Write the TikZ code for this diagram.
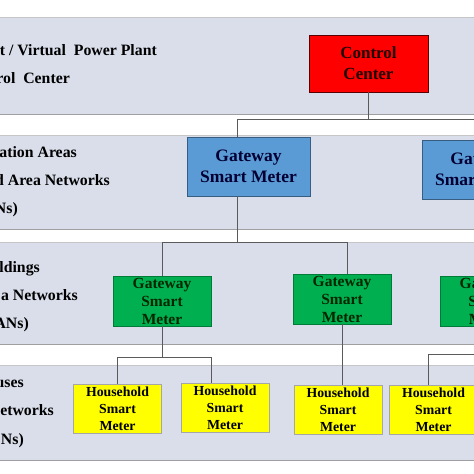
\documentclass[tikz,border=0pt]{standalone}
\usepackage{fontspec}
\setmainfont{Liberation Serif}
\definecolor{bandfill}{HTML}{D9DEEA}
\definecolor{ccred}{HTML}{FF0000}
\definecolor{gwblue}{HTML}{5B9BD5}
\definecolor{bgreen}{HTML}{00B050}
\definecolor{hhyellow}{HTML}{FFFF00}
\definecolor{wiregray}{HTML}{5A5A5A}

\begin{document}
\begin{tikzpicture}[x=1pt, y=-1pt,
        band/.style={fill=bandfill, draw=gray!45},
        bandedge/.style={draw=gray!75, line width=1pt},
        lbl/.style={anchor=base east, inner sep=0pt, font=\bfseries\fontsize{15.8}{19}\selectfont},
        box/.style={draw, inner sep=0pt, align=center},
        ccbox/.style={box, fill=ccred, draw=red!35!black, text=red!12!black,
            minimum width=119, minimum height=57, font=\bfseries\fontsize{17}{21}\selectfont},
        areabox/.style={box, fill=gwblue, draw=gwblue!60!black, text=blue!20!black,
            minimum width=123, minimum height=59, font=\bfseries\fontsize{17.5}{21}\selectfont},
        bldbox/.style={box, fill=bgreen, draw=bgreen!70!black, text=black!85!green,
            minimum width=98, minimum height=50, font=\bfseries\fontsize{15.5}{18}\selectfont},
        hhbox/.style={box, fill=hhyellow, draw=gray!70, text=black,
            minimum width=88, minimum height=49, font=\bfseries\fontsize{13.8}{17}\selectfont},
        wire/.style={draw=wiregray, line width=0.8pt}]

        \useasboundingbox (0,0) rectangle (474,474);
        \clip (0,0) rectangle (474,474);

        % bands
        \path[band] (-5,17) rectangle (480,114);
        \path[band] (-5,135) rectangle (480,229);
        \path[band] (-5,242) rectangle (480,344);
        \path[band] (-5,365) rectangle (480,460);
        \draw[bandedge] (-5,114) -- (480,114);
        \draw[bandedge] (-5,229) -- (480,229);
        \draw[bandedge] (-5,344) -- (480,344);
        \draw[bandedge] (-5,460) -- (480,460);

        % band labels
        \node[lbl] (vpp1) at (157,55) {t / Virtual\ \ Power Plant};
        \node[lbl] (vpp2) at (70,83) {rol\ \ Center};
        \node[lbl] (nan1) at (77,157) {ation Areas};
        \node[lbl] (nan2) at (110,185) {d Area Networks};
        \node[lbl] (nan3) at (18,213) {Ns)};
        \node[lbl] (ban1) at (40,272) {ldings};
        \node[lbl] (ban2) at (78,300) {a Networks};
        \node[lbl] (ban3) at (29,328) {ANs)};
        \node[lbl] (han1) at (24,387) {uses};
        \node[lbl] (han2) at (54,415) {etworks};
        \node[lbl] (han3) at (24,444) {Ns)};

        % boxes
        \node[ccbox] (cc) at (368.5,63.5) {Control\\Center};
        \node[areabox] (agw1) at (248.5,166.5) {Gateway\\Smart Meter};
        \node[areabox] (agw2) at (483.5,169.5) {Gateway\\Smart Meter};
        \node[bldbox] (bgw1) at (162,301) {Gateway\\Smart\\Meter};
        \node[bldbox] (bgw2) at (342,299) {Gateway\\Smart\\Meter};
        \node[bldbox] (bgw3) at (489,301) {Gateway\\Smart\\Meter};
        \node[hhbox] (hh1) at (117.5,409) {Household\\Smart\\Meter};
        \node[hhbox] (hh2) at (225,408) {Household\\Smart\\Meter};
        \node[hhbox] (hh3) at (338,410) {Household\\Smart\\Meter};
        \node[hhbox] (hh4) at (433.5,410) {Household\\Smart\\Meter};

        % junctions
        \coordinate (j1) at (237,119);
        \coordinate (j2) at (237,242);
        \coordinate (j3) at (347,242);
        \coordinate (j4) at (162,357);
        \coordinate (j5) at (211,357);
        \coordinate (j6) at (428,354);
        \coordinate (j7) at (480,354);

        % connectors
        \draw[wire] (cc.south) |- (j1);
        \draw[wire] (j1) -| (agw2.north);
        \draw[wire] (j1) -- (j1 |- agw1.north);
        \draw[wire] (j1 |- agw1.south) -- (j2);
        \draw[wire] (bgw1.north) |- (j3);
        \draw[wire] (j3) -- (j3 |- bgw2.north);
        \draw[wire] (bgw1.south) -- (j4);
        \draw[wire] (hh1.north) |- (j5);
        \draw[wire] (j5) -- (j5 |- hh2.north);
        \draw[wire] (bgw2.south) -- (bgw2.south |- hh3.north);
        \draw[wire] (j6 |- hh4.north) -- (j6) -- (j7);

    \end{tikzpicture}
\end{document}
